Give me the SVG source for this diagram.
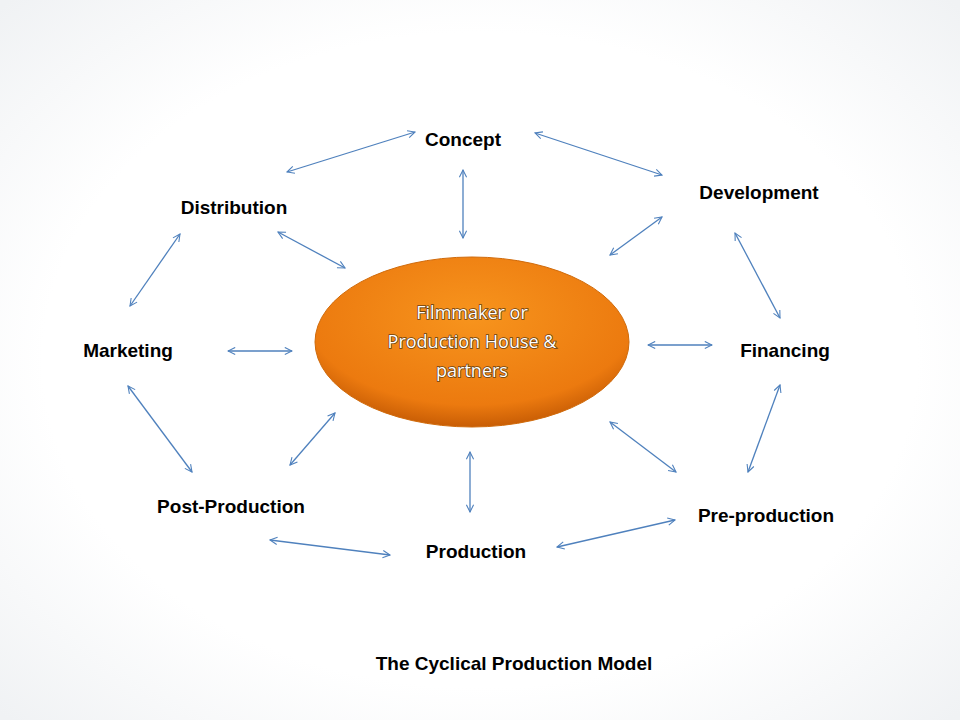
<svg xmlns="http://www.w3.org/2000/svg" width="960" height="720" viewBox="0 0 960 720">
<defs>
<radialGradient id="bg" cx="50%" cy="50%" r="70%"><stop offset="0.65" stop-color="#ffffff"/><stop offset="1" stop-color="#f0f2f4"/></radialGradient>
<radialGradient id="og" cx="50%" cy="35%" r="65%"><stop offset="0" stop-color="#f7941d"/><stop offset="0.8" stop-color="#ec7a0f"/><stop offset="1" stop-color="#c85d05"/></radialGradient>
<marker id="ah" viewBox="0 0 10 10" refX="9" refY="5" markerWidth="9" markerHeight="9" orient="auto-start-reverse" markerUnits="userSpaceOnUse"><path d="M1,1 L9,5 L1,9" fill="none" stroke="#4f81bd" stroke-width="1.2"/></marker>
</defs>
<style>
.l{font-family:"Liberation Sans",Arial,sans-serif;font-weight:bold;font-size:19px;fill:#000;text-anchor:middle}
.c{font-family:"Open Sans","Liberation Sans",sans-serif;font-size:18px;fill:#fff;stroke:#6b4010;stroke-width:1.6;paint-order:stroke;text-anchor:middle}
#conn line{stroke:#4f81bd;stroke-width:1.3;marker-start:url(#ah);marker-end:url(#ah)}
</style>
<rect width="960" height="720" fill="url(#bg)"/>
<g id="center"><ellipse cx="472" cy="342" rx="157" ry="85" fill="url(#og)" stroke="#d06a0a"/>
<text class="c" x="472" y="319">Filmmaker or</text><text class="c" x="472" y="348">Production House &amp;</text><text class="c" x="472" y="377">partners</text></g>
<g id="concept"><text class="l" x="463" y="146">Concept</text></g>
<g id="development"><text class="l" x="759" y="199">Development</text></g>
<g id="distribution"><text class="l" x="234" y="214">Distribution</text></g>
<g id="marketing"><text class="l" x="128" y="357">Marketing</text></g>
<g id="financing"><text class="l" x="785" y="357">Financing</text></g>
<g id="postproduction"><text class="l" x="231" y="513">Post-Production</text></g>
<g id="production"><text class="l" x="476" y="558">Production</text></g>
<g id="preproduction"><text class="l" x="766" y="522">Pre-production</text></g>
<g id="title"><text class="l" x="514" y="670">The Cyclical Production Model</text></g>
<g id="conn">
<line x1="415" y1="132" x2="287" y2="172"/>
<line x1="535" y1="133" x2="662" y2="175"/>
<line x1="463" y1="170" x2="463" y2="238"/>
<line x1="278" y1="232" x2="345" y2="268"/>
<line x1="662" y1="217" x2="610" y2="255"/>
<line x1="180" y1="234" x2="130" y2="306"/>
<line x1="735" y1="233" x2="780" y2="318"/>
<line x1="228" y1="351" x2="292" y2="351"/>
<line x1="648" y1="345" x2="712" y2="345"/>
<line x1="128" y1="386" x2="192" y2="472"/>
<line x1="780" y1="385" x2="748" y2="472"/>
<line x1="335" y1="413" x2="290" y2="465"/>
<line x1="610" y1="422" x2="676" y2="472"/>
<line x1="470" y1="452" x2="470" y2="512"/>
<line x1="270" y1="540" x2="390" y2="555"/>
<line x1="557" y1="547" x2="675" y2="520"/>
</g>
</svg>
